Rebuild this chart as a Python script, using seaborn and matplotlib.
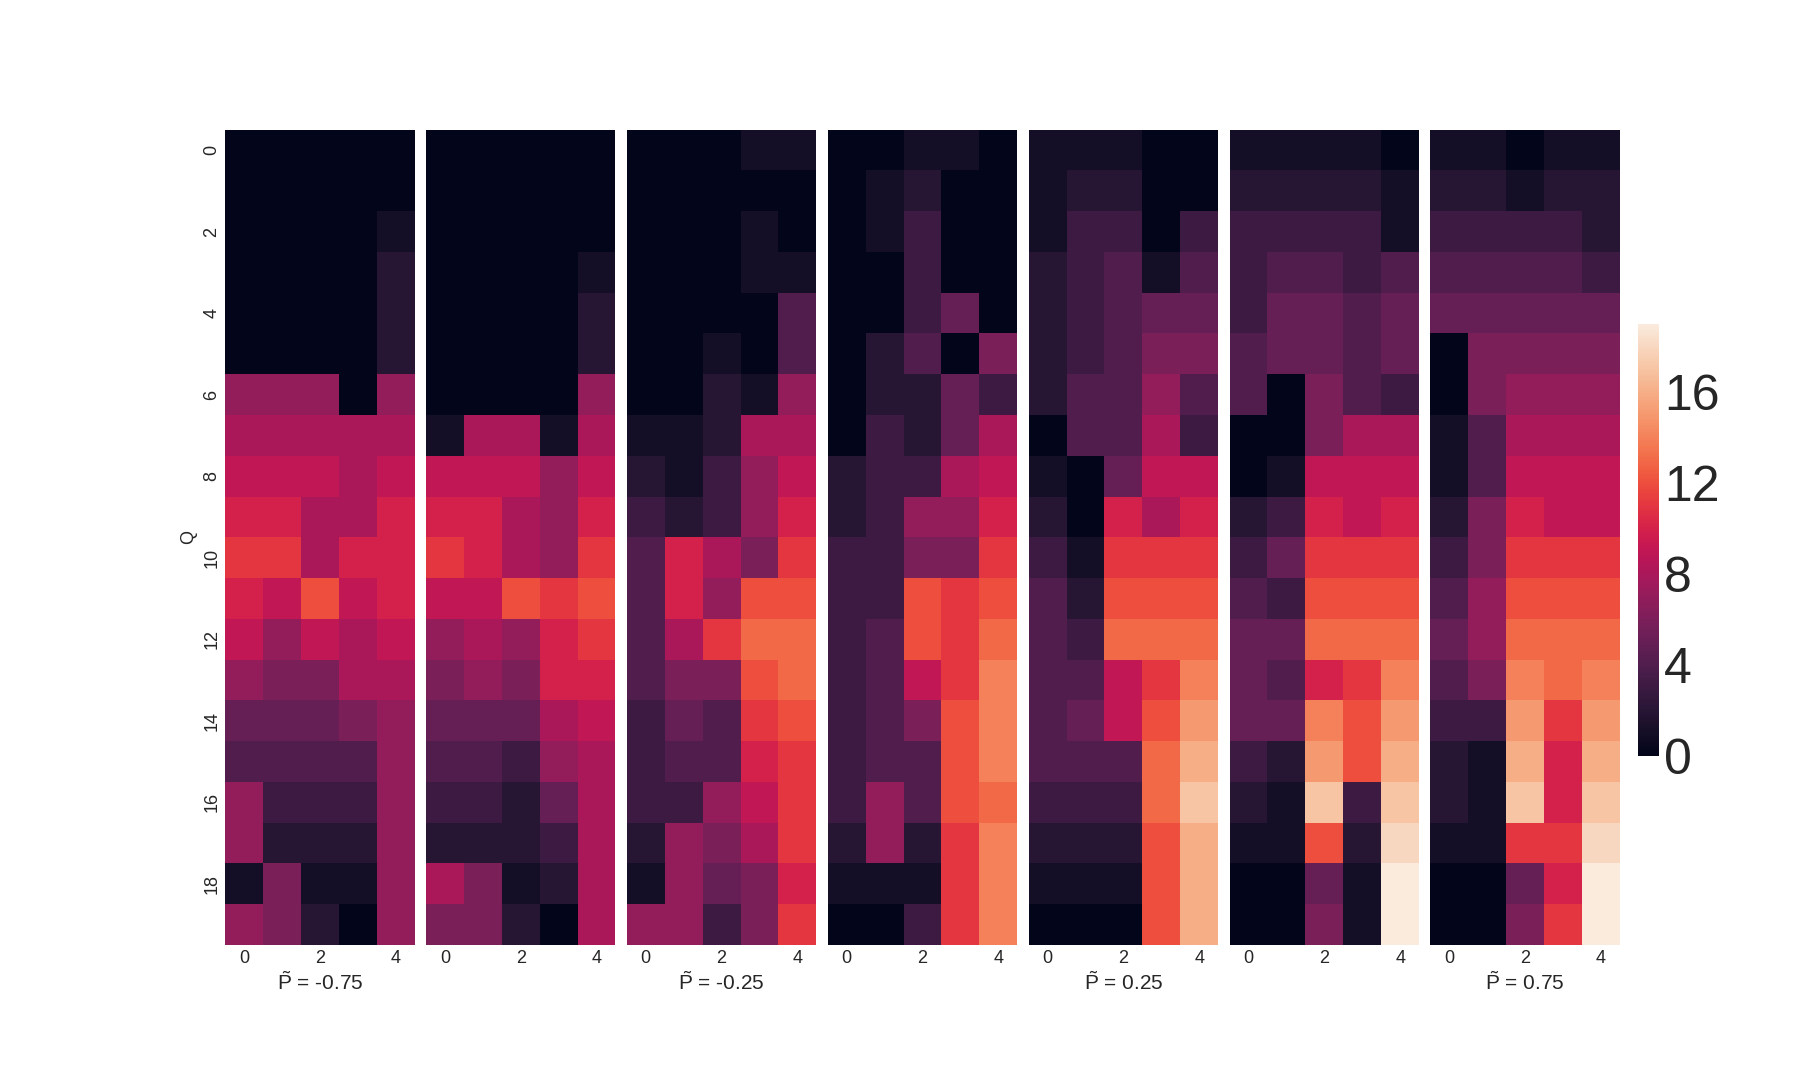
import numpy as np
import pandas as pd
import matplotlib
matplotlib.use("Agg")
import matplotlib.pyplot as plt
import seaborn as sns

sns.set_theme(style="white")
plt.rcParams['font.family'] = ['Liberation Sans', 'DejaVu Sans']
plt.rcParams['mathtext.fontset'] = 'custom'
plt.rcParams['mathtext.rm'] = 'Liberation Sans'
plt.rcParams['mathtext.it'] = 'Liberation Sans:italic'
plt.rcParams['mathtext.bf'] = 'Liberation Sans:bold'

panel_labels = [r"$\tilde{\mathrm{P}}$ = -0.75", "", r"$\tilde{\mathrm{P}}$ = -0.25", "",
                r"$\tilde{\mathrm{P}}$ = 0.25", "", r"$\tilde{\mathrm{P}}$ = 0.75"]
q_values = list(range(20))
k_values = list(range(5))
cbar_ticks = [0, 4, 8, 12, 16]

grid_m075 = [
    [0, 0, 0, 0, 0], [0, 0, 0, 0, 0], [0, 0, 0, 0, 1], [0, 0, 0, 0, 2], [0, 0, 0, 0, 2],
    [0, 0, 0, 0, 2], [7, 7, 7, 0, 7], [8, 8, 8, 8, 8], [9, 9, 9, 8, 9], [10, 10, 8, 8, 10],
    [11, 11, 8, 10, 10], [10, 9, 12, 9, 10], [9, 7, 9, 8, 9], [7, 6, 6, 8, 8], [5, 5, 5, 6, 7],
    [4, 4, 4, 4, 7], [7, 3, 3, 3, 7], [7, 2, 2, 2, 7], [1, 6, 1, 1, 7], [7, 6, 2, 0, 7],
]
grid_m050 = [
    [0, 0, 0, 0, 0], [0, 0, 0, 0, 0], [0, 0, 0, 0, 0], [0, 0, 0, 0, 1], [0, 0, 0, 0, 2],
    [0, 0, 0, 0, 2], [0, 0, 0, 0, 7], [1, 8, 8, 1, 8], [9, 9, 9, 7, 9], [10, 10, 8, 7, 10],
    [11, 10, 8, 7, 11], [9, 9, 12, 11, 12], [7, 8, 7, 10, 11], [6, 7, 6, 10, 10], [5, 5, 5, 8, 9],
    [4, 4, 3, 7, 8], [3, 3, 2, 5, 8], [2, 2, 2, 3, 8], [8, 6, 1, 2, 8], [6, 6, 2, 0, 8],
]
grid_m025 = [
    [0, 0, 0, 1, 1], [0, 0, 0, 0, 0], [0, 0, 0, 1, 0], [0, 0, 0, 1, 1], [0, 0, 0, 0, 4],
    [0, 0, 1, 0, 4], [0, 0, 2, 1, 7], [1, 1, 2, 8, 8], [2, 1, 3, 7, 9], [3, 2, 3, 7, 10],
    [4, 10, 8, 6, 11], [4, 10, 7, 12, 12], [4, 8, 11, 13, 13], [4, 6, 6, 12, 13], [3, 5, 4, 11, 12],
    [3, 4, 4, 10, 11], [3, 3, 7, 9, 11], [2, 7, 6, 8, 11], [1, 7, 5, 6, 10], [7, 7, 3, 6, 11],
]
grid_p000 = [
    [0, 0, 1, 1, 0], [0, 1, 2, 0, 0], [0, 1, 3, 0, 0], [0, 0, 3, 0, 0], [0, 0, 3, 5, 0],
    [0, 2, 4, 0, 6], [0, 2, 2, 5, 3], [0, 3, 2, 5, 8], [2, 3, 3, 8, 9], [2, 3, 7, 7, 10],
    [3, 3, 6, 6, 11], [3, 3, 12, 11, 12], [3, 4, 12, 11, 13], [3, 4, 9, 11, 14], [3, 4, 6, 12, 14],
    [3, 4, 4, 12, 14], [3, 7, 4, 12, 13], [2, 7, 2, 11, 14], [1, 1, 1, 11, 14], [0, 0, 3, 11, 14],
]
grid_p025 = [
    [1, 1, 1, 0, 0], [1, 2, 2, 0, 0], [1, 3, 3, 0, 3], [2, 3, 4, 1, 4], [2, 3, 4, 5, 5],
    [2, 3, 4, 6, 6], [2, 4, 4, 7, 4], [0, 4, 4, 8, 3], [1, 0, 5, 9, 9], [2, 0, 10, 8, 10],
    [3, 1, 11, 11, 11], [4, 2, 12, 12, 12], [4, 3, 13, 13, 13], [4, 4, 9, 11, 14], [4, 5, 9, 12, 15],
    [4, 4, 4, 13, 16], [3, 3, 3, 13, 17], [2, 2, 2, 12, 16], [1, 1, 1, 12, 16], [0, 0, 0, 12, 16],
]
grid_p050 = [
    [1, 1, 1, 1, 0], [2, 2, 2, 2, 1], [3, 3, 3, 3, 1], [3, 4, 4, 3, 4], [3, 5, 5, 4, 5],
    [4, 5, 5, 4, 5], [4, 0, 6, 4, 3], [0, 0, 6, 8, 8], [0, 1, 9, 9, 9], [2, 3, 10, 9, 10],
    [3, 5, 11, 11, 11], [4, 3, 12, 12, 12], [5, 5, 13, 13, 13], [5, 4, 10, 11, 14], [5, 5, 14, 12, 15],
    [3, 2, 15, 12, 16], [2, 1, 17, 3, 17], [1, 1, 12, 2, 18], [0, 0, 5, 1, 19], [0, 0, 6, 1, 19],
]
grid_p075 = [
    [1, 1, 0, 1, 1], [2, 2, 1, 2, 2], [3, 3, 3, 3, 2], [4, 4, 4, 4, 3], [5, 5, 5, 5, 5],
    [0, 6, 6, 6, 6], [0, 6, 7, 7, 7], [1, 4, 8, 8, 8], [1, 4, 9, 9, 9], [2, 6, 10, 9, 9],
    [3, 6, 11, 11, 11], [4, 7, 12, 12, 12], [5, 7, 13, 13, 13], [4, 6, 14, 13, 14], [3, 3, 15, 11, 15],
    [2, 1, 16, 10, 16], [2, 1, 17, 10, 17], [1, 1, 11, 11, 18], [0, 0, 5, 10, 19], [0, 0, 6, 11, 19],
]

grids = [grid_m075, grid_m050, grid_m025, grid_p000, grid_p025, grid_p050, grid_p075]

fig = plt.figure(figsize=(18, 10.8), dpi=100)
left, right, bottom, top = 0.125, 0.9, 0.125, 0.88
wspace = 0.06
n = len(grids)
w = (right - left) / (n + (n - 1) * wspace)
cbar_ax = fig.add_axes([0.91, 0.3, 0.0117, 0.4])

for i, (grid, lab) in enumerate(zip(grids, panel_labels)):
    ax = fig.add_axes([left + i * w * (1 + wspace), bottom, w, top - bottom])
    df = pd.DataFrame(grid, index=q_values, columns=k_values)
    sns.heatmap(df, ax=ax, vmin=0, vmax=19, cmap="rocket",
                cbar=(i == 0), cbar_ax=cbar_ax if i == 0 else None,
                xticklabels=2, yticklabels=2 if i == 0 else False)
    ax.set_xlabel(lab, fontsize=15, color="#262626", labelpad=3)
    ax.tick_params(axis="x", labelsize=13, rotation=0, colors="#262626", length=0)
    if i == 0:
        ax.set_ylabel("Q", fontsize=13, color="#262626")
        ax.tick_params(axis="y", labelsize=13, rotation=90, colors="#262626", length=0)
        for t in ax.get_yticklabels():
            t.set_va("center")
    else:
        ax.set_ylabel("")

cbar_ax.set_yticks(cbar_ticks)
cbar_ax.tick_params(labelsize=36, length=0, colors="#262626")
for s in cbar_ax.spines.values():
    s.set_visible(False)

fig.savefig("out.png", dpi=100)
